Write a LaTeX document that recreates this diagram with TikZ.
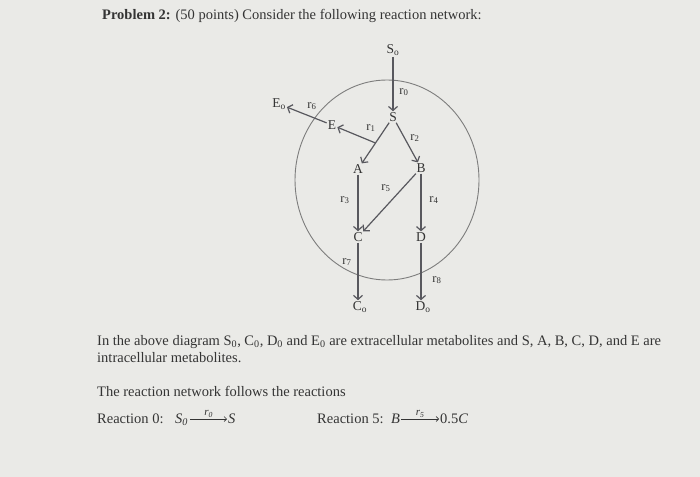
\documentclass[tikz,border=0pt]{standalone}
\usepackage{fontspec}
\setmainfont{Liberation Serif}
\usetikzlibrary{arrows.meta,calc}
\definecolor{bg}{RGB}{234,234,231}
\definecolor{ink}{RGB}{52,52,52}
\definecolor{arrc}{RGB}{88,88,94}
\definecolor{cellc}{RGB}{125,125,125}
\begin{document}
\begin{tikzpicture}[x=1pt,y=-1pt,
  met/.style={font=\fontsize{13.5}{15}\selectfont, text=ink, inner sep=1pt},
  rl/.style={font=\fontsize{12.5}{14}\selectfont, text=ink, inner sep=0pt},
  flux/.style={draw=arrc, line width=1.2pt, -{Straight Barb[length=4pt,width=9pt]}},
  rxarrow/.style={draw=ink, line width=0.6pt, -{Straight Barb[length=2.5pt,width=5pt]}},
  txt/.style={font=\fontsize{14.5}{17}\selectfont, text=ink, anchor=base west, inner sep=0pt},
  rxlab/.style={font=\fontsize{11}{13}\selectfont\itshape, text=ink, inner sep=1pt}]
\useasboundingbox (0,0) rectangle (700,476);
\fill[bg] (-6,-6) rectangle (706,482);

% cell boundary
\draw[cellc, line width=0.9pt] (387,180) ellipse [x radius=92pt, y radius=100pt];

% metabolites
\node[met] (S0) at (393,50) {S\textsubscript{o}};
\node[met] (S)  at (393,117) {S};
\node[met] (E)  at (332,125) {E};
\node[met] (E0) at (279,104) {E\textsubscript{o}};
\node[met] (A)  at (358,169) {A};
\node[met] (B)  at (421,168) {B};
\node[met] (C)  at (358,237) {C};
\node[met] (D)  at (421,237) {D};
\node[met] (C0) at (360,307) {C\textsubscript{o}};
\node[met] (D0) at (423,307) {D\textsubscript{o}};

% fluxes
\coordinate (br) at ($(S)!0.5!(A)$);
\draw[flux] (S0) -- (S);
\draw[flux] (S) -- (A);
\draw[flux] (br) -- (E);
\draw[flux] (E) -- (E0);
\draw[flux] (S) -- (B);
\draw[flux] (A) -- (C);
\draw[flux] (B) -- (C);
\draw[flux] (B) -- (D);
\draw[flux] (C) -- (C.south |- C0.north);
\draw[flux] (D) -- (D.south |- D0.north);

% flux labels
\node[rl] (r0) at (404,92) {r\textsubscript{0}};
\node[rl] (r1) at (371,128) {r\textsubscript{1}};
\node[rl] (r2) at (415,138) {r\textsubscript{2}};
\node[rl] (r3) at (345,200) {r\textsubscript{3}};
\node[rl] (r4) at (434,200) {r\textsubscript{4}};
\node[rl] (r5) at (386,188) {r\textsubscript{5}};
\node[rl] (r6) at (312,106) {r\textsubscript{6}};
\node[rl] (r7) at (347,262) {r\textsubscript{7}};
\node[rl] (r8) at (437,280) {r\textsubscript{8}};

% text
\node[txt] (title) at (102,20) {\textbf{Problem 2:} (50 points) Consider the following reaction network:};
\node[txt] (p1) at (97,345) {In the above diagram S\textsubscript{0}, C\textsubscript{0}, D\textsubscript{0} and E\textsubscript{0} are extracellular metabolites and S, A, B, C, D, and E are};
\node[txt] (p2) at (97,362) {intracellular metabolites.};
\node[txt] (p3) at (97,396) {The reaction network follows the reactions};

\node[txt] (rx0) at (97,423) {Reaction 0:};
\node[txt] (rS0) at (175,423) {\itshape S\textsubscript{0}};
\node[txt] (rS) at (228,423) {\itshape S};
\draw[rxarrow] ([xshift=2pt,yshift=4pt]rS0.base east) -- node[rxlab, above] (lr0) {r\textsubscript{0}} ([xshift=-1pt,yshift=4pt]rS.base west);

\node[txt] (rx5) at (317,423) {Reaction 5:};
\node[txt] (rB) at (391,423) {\itshape B};
\node[txt] (rC) at (440,423) {0.5\textit{C}};
\draw[rxarrow] ([xshift=1pt,yshift=4pt]rB.base east) -- node[rxlab, above] (lr5) {r\textsubscript{5}} ([xshift=-1pt,yshift=4pt]rC.base west);
\end{tikzpicture}
\end{document}
